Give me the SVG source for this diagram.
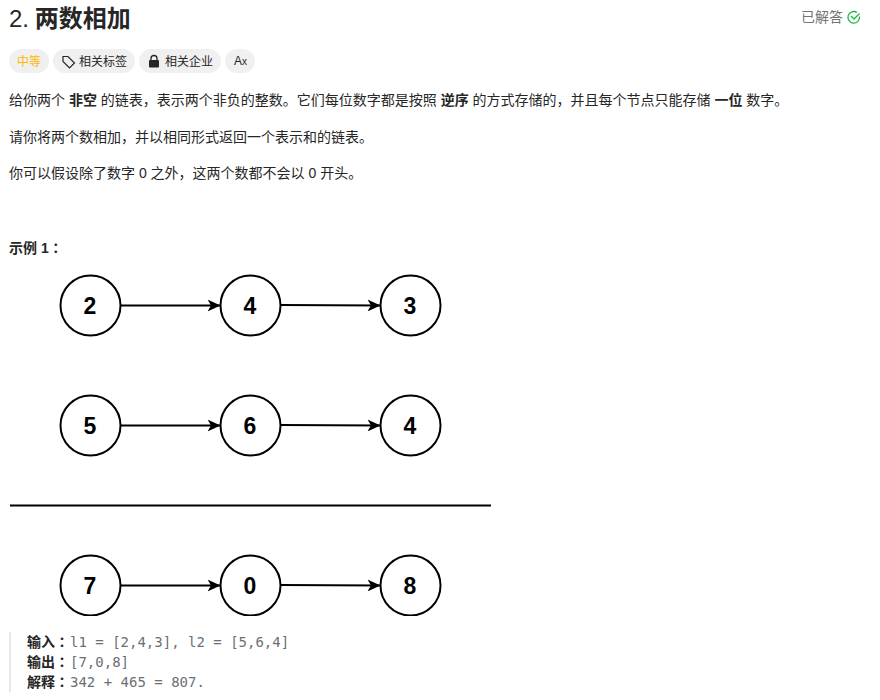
<svg xmlns="http://www.w3.org/2000/svg" width="880" height="700" viewBox="0 0 880 700">
<defs>
<marker id="arrow" markerUnits="userSpaceOnUse" markerWidth="14" markerHeight="12" refX="13" refY="6" orient="auto"><path d="M0 0L13 6L0 12L3.500 6Z" fill="#000"/></marker>
</defs>
<style>
text{font-family:"Liberation Sans","Noto Sans CJK SC",sans-serif;}
.body{font-size:14px;fill:#262626;}
.b{font-weight:700;}
.tc{font-family:"Noto Sans CJK TC",sans-serif;}
.pill{fill:#f0f0f0;}
.tag{font-size:12px;fill:#262626;}
.c{fill:#fff;stroke:#000;stroke-width:2;}
.n{font-size:23px;font-weight:700;fill:#000;text-anchor:middle;font-family:"Liberation Sans",sans-serif;}
.e{fill:none;stroke:#000;stroke-width:2;marker-end:url(#arrow);}
.mono{font-family:"DejaVu Sans Mono","Liberation Mono",monospace;font-size:14px;fill:#6b6f76;}
</style>
<rect width="880" height="700" fill="#fff"/>
<text x="9" y="27" font-size="24" fill="#262626">2. <tspan class="b" dx="-1">两数相加</tspan></text>
<text x="801" y="22" font-size="14" fill="#737373">已解答</text>
<g fill="none" stroke="#1cb84a" stroke-width="1.3"><path d="M859.500 16.500A5.800 5.800 0 1 1 857 12.500"/><path d="M851 16l3 3 5.500-5.500"/></g>
<rect class="pill" x="9" y="49" width="40" height="24" rx="12"/>
<text x="17" y="66" font-size="12" fill="#ffb800">中等</text>
<rect class="pill" x="53" y="49" width="82" height="24" rx="12"/>
<path d="M63 56.500h5l6.500 6.500-5 5-6.500-6.500Z" fill="none" stroke="#262626" stroke-width="1.200"/>
<text class="tag" x="79" y="66">相关标签</text>
<rect class="pill" x="139" y="49" width="82" height="24" rx="12"/>
<rect x="149" y="60" width="10" height="7.500" rx="1" fill="#262626"/><path d="M151 60v-1.500a3 3 0 0 1 6 0V60" fill="none" stroke="#262626" stroke-width="1.300"/>
<text class="tag" x="165" y="66">相关企业</text>
<rect class="pill" x="225" y="49" width="30" height="24" rx="12"/>
<text x="234" y="65" font-size="12" fill="#262626">A<tspan font-size="10">x</tspan></text>
<text class="body" x="9" y="105">给你两个 <tspan class="b">非空</tspan> 的链表，表示两个非负的整数。它们每位数字都是按照 <tspan class="b">逆序</tspan> 的方式存储的，并且每个节点只能存储 <tspan class="b">一位</tspan> 数字。</text>
<text class="body" x="9" y="142">请你将两个数相加，并以相同形式返回一个表示和的链表。</text>
<text class="body" x="9" y="178">你可以假设除了数字 0 之外，这两个数都不会以 0 开头。</text>
<text class="body b" x="9" y="253">示例 1<tspan class="tc">：</tspan></text>
<g id="connectors">
<path class="e" d="M120.500 305.500H220.500"/><path class="e" d="M280.500 305L380.500 305.500"/>
<path class="e" d="M120.500 425.500H220.500"/><path class="e" d="M280.500 425L380.500 425.500"/>
<path class="e" d="M120.500 585.500H220.500"/><path class="e" d="M280.500 585L380.500 585.500"/>
<path d="M10 505.500H491" fill="none" stroke="#000" stroke-width="2"/>
</g>
<g id="n2"><circle class="c" cx="90.500" cy="305.500" r="30"/><text class="n" x="90" y="314">2</text></g>
<g id="n4"><circle class="c" cx="250.500" cy="305.500" r="30"/><text class="n" x="250" y="314">4</text></g>
<g id="n3"><circle class="c" cx="410.500" cy="305.500" r="30"/><text class="n" x="410" y="314">3</text></g>
<g id="n5"><circle class="c" cx="90.500" cy="425.500" r="30"/><text class="n" x="90" y="434">5</text></g>
<g id="n6"><circle class="c" cx="250.500" cy="425.500" r="30"/><text class="n" x="250" y="434">6</text></g>
<g id="n4b"><circle class="c" cx="410.500" cy="425.500" r="30"/><text class="n" x="410" y="434">4</text></g>
<g id="n7"><circle class="c" cx="90.500" cy="585.500" r="30"/><text class="n" x="90" y="594">7</text></g>
<g id="n0"><circle class="c" cx="250.500" cy="585.500" r="30"/><text class="n" x="250" y="594">0</text></g>
<g id="n8"><circle class="c" cx="410.500" cy="585.500" r="30"/><text class="n" x="410" y="594">8</text></g>
<rect x="0" y="616" width="500" height="16" fill="#fff"/>
<rect x="9" y="632" width="2" height="60" fill="#e8e8e8"/>
<text class="body b" x="27" y="647">输入<tspan class="tc">：</tspan></text><text class="mono" x="70" y="647">l1 = [2,4,3], l2 = [5,6,4]</text>
<text class="body b" x="27" y="667">输出<tspan class="tc">：</tspan></text><text class="mono" x="70" y="667">[7,0,8]</text>
<text class="body b" x="27" y="687">解释<tspan class="tc">：</tspan></text><text class="mono" x="70" y="687">342 + 465 = 807.</text>
</svg>
